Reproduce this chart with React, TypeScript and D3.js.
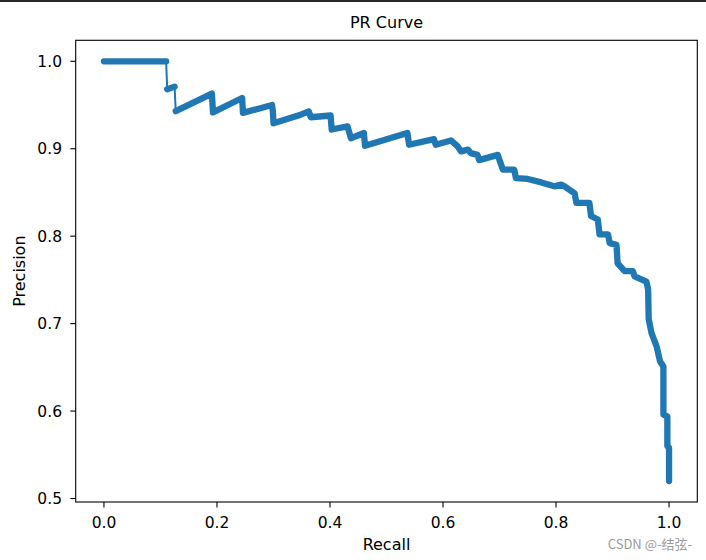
import React from "react";
import * as d3 from "d3";

const recall = [
  0.0, 0.11, 0.112, 0.125, 0.127, 0.191, 0.193, 0.2445, 0.246, 0.2975, 0.299, 0.3, 0.348, 0.3625,
  0.366, 0.401, 0.403, 0.431, 0.437, 0.46, 0.462, 0.537, 0.54, 0.584, 0.587, 0.614, 0.626, 0.632,
  0.644, 0.649, 0.661, 0.664, 0.697, 0.7, 0.706, 0.726, 0.729, 0.75, 0.774, 0.797, 0.809, 0.815,
  0.833, 0.836, 0.859, 0.862, 0.874, 0.877, 0.892, 0.895, 0.907, 0.909, 0.9215, 0.936, 0.939,
  0.96, 0.963, 0.964, 0.969, 0.978, 0.984, 0.99, 0.99, 0.997, 0.997, 1.0, 1.0,
];
const precision = [
  1.0, 1.0, 0.968, 0.971, 0.943, 0.963, 0.9415, 0.958, 0.941, 0.95, 0.942, 0.929, 0.939, 0.9426,
  0.936, 0.938, 0.922, 0.9255, 0.912, 0.918, 0.9034, 0.918, 0.9046, 0.911, 0.9046, 0.9095, 0.9026, 0.897,
  0.899, 0.895, 0.893, 0.887, 0.893, 0.887, 0.876, 0.876, 0.8665, 0.8654, 0.8615, 0.857, 0.859, 0.857,
  0.849, 0.838, 0.838, 0.823, 0.819, 0.802, 0.802, 0.792, 0.79, 0.769, 0.76, 0.76, 0.754,
  0.748, 0.739, 0.705, 0.689, 0.674, 0.657, 0.651, 0.596, 0.594, 0.56, 0.558, 0.52,
];
// segments (start index) where the curve has only a few points (thin line)
const sparseSegments = [1, 3];

const xTicks = [0.0, 0.2, 0.4, 0.6, 0.8, 1.0];
const yTicks = [0.5, 0.6, 0.7, 0.8, 0.9, 1.0];

const title = "PR Curve";
const xLabel = "Recall";
const yLabel = "Precision";
const watermark = "CSDN @-结弦-";

export default function App() {
  const W = 706, H = 560;
  const left = 75.7, right = 697.3, top = 40.3, bottom = 502;
  const x = d3.scaleLinear().domain([-0.05, 1.05]).range([left, right]);
  const y = d3.scaleLinear().domain([0.496, 1.024]).range([bottom, top]);
  const color = "#1f77b4";
  const font = "'DejaVu Sans', sans-serif";

  const pts = recall.map((r, i) => [r, precision[i]] as [number, number]);
  const line = d3.line<[number, number]>().x(d => x(d[0])).y(d => y(d[1]));

  const runs: [number, number][][] = [];
  let cur: [number, number][] = [pts[0]];
  for (let i = 0; i < pts.length - 1; i++) {
    if (sparseSegments.includes(i)) {
      runs.push(cur);
      cur = [pts[i + 1]];
    } else {
      cur.push(pts[i + 1]);
    }
  }
  runs.push(cur);

  const tickLen = 5.4;

  return (
    <svg width={W} height={H} style={{ position: "absolute", left: 0, top: 0, background: "#fff" }}>
      <rect x={0} y={0} width={W} height={H} fill="#fff" />
      <rect x={0} y={0} width={W} height={2} fill="#2a2a2a" />
      <text x={(left + right) / 2} y={28} textAnchor="middle" fontFamily={font} fontSize={16}>
        {title}
      </text>
      <path d={line(pts) || ""} fill="none" stroke={color} strokeWidth={2} />
      {runs.map((run, i) =>
        run.length > 1 ? (
          <path key={i} d={line(run) || ""} fill="none" stroke={color} strokeWidth={6.3}
            strokeLinejoin="round" strokeLinecap="round" />
        ) : (
          <circle key={i} cx={x(run[0][0])} cy={y(run[0][1])} r={3.1} fill={color} />
        )
      )}
      <rect x={left} y={top} width={right - left} height={bottom - top} fill="none" stroke="#000" strokeWidth={1.1} />
      {xTicks.map(t => (
        <g key={"x" + t}>
          <line x1={x(t)} x2={x(t)} y1={bottom} y2={bottom + tickLen} stroke="#000" strokeWidth={1.1} />
          <text x={x(t)} y={528} textAnchor="middle" fontFamily={font} fontSize={15.5}>
            {t.toFixed(1)}
          </text>
        </g>
      ))}
      {yTicks.map(t => (
        <g key={"y" + t}>
          <line x1={left} x2={left - tickLen} y1={y(t)} y2={y(t)} stroke="#000" strokeWidth={1.1} />
          <text x={62} y={y(t)} dy="0.36em" textAnchor="end" fontFamily={font} fontSize={15.5}>
            {t.toFixed(1)}
          </text>
        </g>
      ))}
      <text x={(left + right) / 2} y={550} textAnchor="middle" fontFamily={font} fontSize={16}>
        {xLabel}
      </text>
      <text transform={`translate(25, ${(top + bottom) / 2}) rotate(-90)`} textAnchor="middle"
        fontFamily={font} fontSize={16}>
        {yLabel}
      </text>
      <text x={692} y={549} textAnchor="end" fontFamily="'Noto Sans CJK SC', sans-serif" fontSize={13} fill="#9a9a9a">
        {watermark}
      </text>
    </svg>
  );
}
